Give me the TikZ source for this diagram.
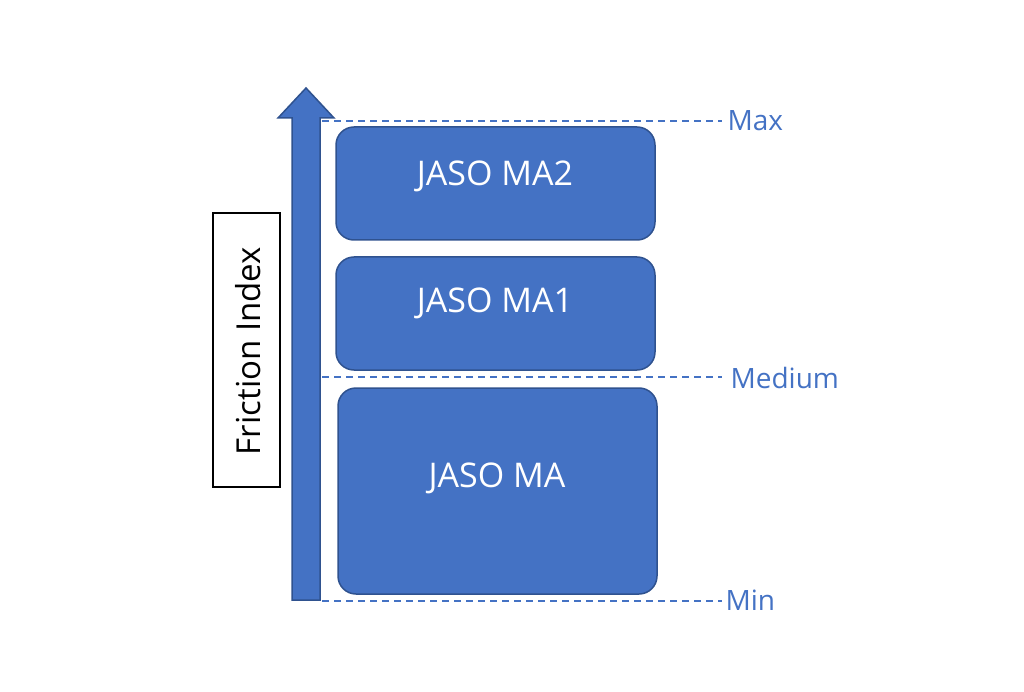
\documentclass[tikz,border=0pt]{standalone}
\usepackage{fontspec}
\setmainfont{Open Sans}
\definecolor{blu}{HTML}{4472C4}
\definecolor{edge}{HTML}{2F528F}
\begin{document}
\begin{tikzpicture}[x=1pt,y=-1pt,
  box/.style={draw=edge,line width=1.5pt,fill=blu,rounded corners=18pt},
  lbl/.style={text=white,font=\fontsize{34}{40}\selectfont},
  dline/.style={draw=blu,dash pattern=on 7pt off 5pt,line width=1.4pt},
  side/.style={text=blu,anchor=west,font=\fontsize{28}{32}\selectfont}]
\useasboundingbox (0,0) rectangle (1024,692);
\fill[blu,draw=edge,line width=1.5pt] (292,600) -- (292,118) -- (278,118) -- (306,88) -- (334,118) -- (320,118) -- (320,600) -- cycle;
\draw[box] (336,127) rectangle (655,240);
\draw[box] (336,257) rectangle (655,370);
\draw[box] (338,388) rectangle (657,594);
\node[lbl] (ma2) at (495,176) {JASO MA2};
\node[lbl] (ma1) at (495,303) {JASO MA1};
\node[lbl] (ma) at (497,478) {JASO MA};
\draw[dline] (322,121) -- (722,121);
\draw[dline] (322,377) -- (722,377);
\draw[dline] (322,601) -- (722,601);
\node[side] (max) at (724,121) {Max};
\node[side] (med) at (727,378) {Medium};
\node[side] (min) at (722,600) {Min};
\draw[line width=1.5pt] (213,213) rectangle (280,487);
\node[rotate=90,font=\fontsize{33}{38}\selectfont] (fi) at (248,351) {Friction Index};
\end{tikzpicture}
\end{document}
